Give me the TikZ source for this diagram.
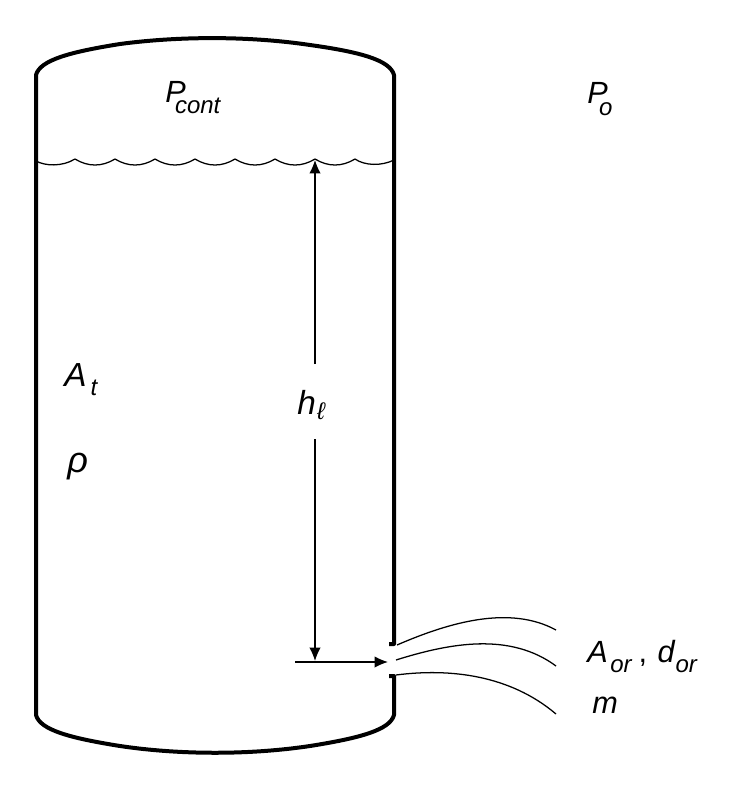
\documentclass[tikz,border=0pt]{standalone}
\usepackage{fontspec}
\usepackage{amsmath}
\setmainfont{Liberation Sans}
\usetikzlibrary{arrows.meta}

% kern, drop, letter, subscript
\newcommand{\biglabel}[4]{\textit{#3}\kern#1\raisebox{#2}{\fontsize{18}{18}\selectfont\textit{#4}}}

\begin{document}
\begin{tikzpicture}[x=0.75pt,y=-0.75pt,
                wall/.style={line width=3pt, line join=round},
                thin line/.style={line width=0.95pt},
                dim line/.style={thin line, -{Latex[length=10pt,width=8.5pt]}},
                main label/.style={font=\fontsize{23}{28}\selectfont, inner sep=0pt, anchor=base west},
                large label/.style={main label, font=\fontsize{25}{30}\selectfont}]
  \useasboundingbox (0,0) rectangle (744,796);

  % tank
  \coordinate (lipup) at (394,644);
  \coordinate (liplow) at (394,676);
  \draw[wall] (389,644) -- (lipup) -- (394,75)
    .. controls (390,60) and (360,52) .. (310,45)
    .. controls (250,36) and (180,36) .. (120,44)
    .. controls (70,52) and (40,60) .. (36,75)
    -- (36,715)
    .. controls (40,730) and (70,738) .. (120,746)
    .. controls (180,755) and (250,755) .. (310,746)
    .. controls (360,738) and (390,730) .. (394,715)
    -- (liplow) -- (389,676);

  % liquid level
  \draw[thin line] (36,161) .. controls (45,166) and (62,167) .. (75,159);
  \foreach \x in {75,115,155,195,235,275,315}
    \draw[thin line] (\x,159) .. controls (\x+13,167) and (\x+27,167) .. (\x+40,159);
  \draw[thin line] (355,159) .. controls (365,166) and (382,166) .. (394,160);

  \coordinate (level) at (315,160);
  \coordinate (gapup) at (315,364);
  \coordinate (gaplow) at (315,439);
  \coordinate (hole) at (315,661);
  \coordinate (start) at (295,662);
  \coordinate (inlet) at (388,662);

  \draw[dim line] (gapup) -- (level);
  \draw[dim line] (gaplow) -- (hole);
  \draw[dim line] (start) -- (inlet);

  % jet
  \coordinate (jetend1) at (556,630);
  \coordinate (jetend2) at (556,666);
  \coordinate (jetend3) at (556,714);
  \draw[thin line] (397,645) .. controls (450,622) and (510,605) .. (jetend1);
  \draw[thin line] (396,660) .. controls (450,643) and (510,632) .. (jetend2);
  \draw[thin line] (396,675) .. controls (450,668) and (510,675) .. (jetend3);

  % labels
  \node[main label] (pcont) at (165,102) {\biglabel{-8pt}{-8.5pt}{P}{cont}};
  \node[main label] (po) at (587,103) {\biglabel{-6.5pt}{-9pt}{P}{o}};
  \node[large label] (at) at (64,386) {\biglabel{3pt}{-6.75pt}{A}{t}};
  \node[main label, font=\fontsize{27}{32}\selectfont] (rho) at (67,472) {\textit{ρ}};
  \node[large label] (height) at (297,414) {\biglabel{1pt}{-3.75pt}{h}{ℓ}};
  \node[main label] (aor) at (587,662) {\biglabel{2pt}{-7.5pt}{A}{or}\kern4.5pt,\kern8pt\biglabel{0pt}{-7.5pt}{d}{or}};
  \node[main label] (mdot) at (592,713) {\textit{m}};
\end{tikzpicture}
\end{document}
